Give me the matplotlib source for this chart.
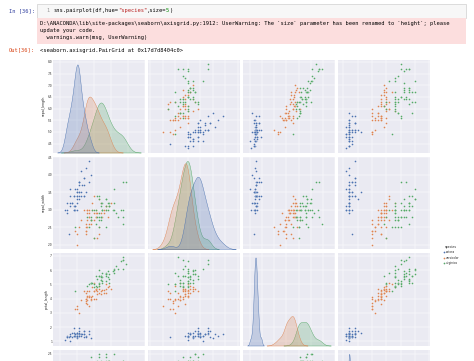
import numpy as np
import pandas as pd
import matplotlib
matplotlib.use("Agg")
import matplotlib.pyplot as plt
import seaborn as sns
from matplotlib.ticker import MaxNLocator
from matplotlib.patches import Rectangle
from matplotlib.lines import Line2D

# ---------------- data (iris) ----------------
species_names = ["setosa", "versicolor", "virginica"]
variables = ["sepal_length", "sepal_width", "petal_length", "petal_width"]

setosa_sepal_length = [5.1,4.9,4.7,4.6,5.0,5.4,4.6,5.0,4.4,4.9,5.4,4.8,4.8,4.3,5.8,5.7,5.4,5.1,5.7,5.1,5.4,5.1,4.6,5.1,4.8,5.0,5.0,5.2,5.2,4.7,4.8,5.4,5.2,5.5,4.9,5.0,5.5,4.9,4.4,5.1,5.0,4.5,4.4,5.0,5.1,4.8,5.1,4.6,5.3,5.0]
setosa_sepal_width = [3.5,3.0,3.2,3.1,3.6,3.9,3.4,3.4,2.9,3.1,3.7,3.4,3.0,3.0,4.0,4.4,3.9,3.5,3.8,3.8,3.4,3.7,3.6,3.3,3.4,3.0,3.4,3.5,3.4,3.2,3.1,3.4,4.1,4.2,3.1,3.2,3.5,3.6,3.0,3.4,3.5,2.3,3.2,3.5,3.8,3.0,3.8,3.2,3.7,3.3]
setosa_petal_length = [1.4,1.4,1.3,1.5,1.4,1.7,1.4,1.5,1.4,1.5,1.5,1.6,1.4,1.1,1.2,1.5,1.3,1.4,1.7,1.5,1.7,1.5,1.0,1.7,1.9,1.6,1.6,1.5,1.4,1.6,1.6,1.5,1.5,1.4,1.5,1.2,1.3,1.4,1.3,1.5,1.3,1.3,1.3,1.6,1.9,1.4,1.6,1.4,1.5,1.4]
setosa_petal_width = [0.2,0.2,0.2,0.2,0.2,0.4,0.3,0.2,0.2,0.1,0.2,0.2,0.1,0.1,0.2,0.4,0.4,0.3,0.3,0.3,0.2,0.4,0.2,0.5,0.2,0.2,0.4,0.2,0.2,0.2,0.2,0.4,0.1,0.2,0.2,0.2,0.2,0.1,0.2,0.2,0.3,0.3,0.2,0.6,0.4,0.3,0.2,0.2,0.2,0.2]

versicolor_sepal_length = [7.0,6.4,6.9,5.5,6.5,5.7,6.3,4.9,6.6,5.2,5.0,5.9,6.0,6.1,5.6,6.7,5.6,5.8,6.2,5.6,5.9,6.1,6.3,6.1,6.4,6.6,6.8,6.7,6.0,5.7,5.5,5.5,5.8,6.0,5.4,6.0,6.7,6.3,5.6,5.5,5.5,6.1,5.8,5.0,5.6,5.7,5.7,6.2,5.1,5.7]
versicolor_sepal_width = [3.2,3.2,3.1,2.3,2.8,2.8,3.3,2.4,2.9,2.7,2.0,3.0,2.2,2.9,2.9,3.1,3.0,2.7,2.2,2.5,3.2,2.8,2.5,2.8,2.9,3.0,2.8,3.0,2.9,2.6,2.4,2.4,2.7,2.7,3.0,3.4,3.1,2.3,3.0,2.5,2.6,3.0,2.6,2.3,2.7,3.0,2.9,2.9,2.5,2.8]
versicolor_petal_length = [4.7,4.5,4.9,4.0,4.6,4.5,4.7,3.3,4.6,3.9,3.5,4.2,4.0,4.7,3.6,4.4,4.5,4.1,4.5,3.9,4.8,4.0,4.9,4.7,4.3,4.4,4.8,5.0,4.5,3.5,3.8,3.7,3.9,5.1,4.5,4.5,4.7,4.4,4.1,4.0,4.4,4.6,4.0,3.3,4.2,4.2,4.2,4.3,3.0,4.1]
versicolor_petal_width = [1.4,1.5,1.5,1.3,1.5,1.3,1.6,1.0,1.3,1.4,1.0,1.5,1.0,1.4,1.3,1.4,1.5,1.0,1.5,1.1,1.8,1.3,1.5,1.2,1.3,1.4,1.4,1.7,1.5,1.0,1.1,1.0,1.2,1.6,1.5,1.6,1.5,1.3,1.3,1.3,1.2,1.4,1.2,1.0,1.3,1.2,1.3,1.3,1.1,1.3]

virginica_sepal_length = [6.3,5.8,7.1,6.3,6.5,7.6,4.9,7.3,6.7,7.2,6.5,6.4,6.8,5.7,5.8,6.4,6.5,7.7,7.7,6.0,6.9,5.6,7.7,6.3,6.7,7.2,6.2,6.1,6.4,7.2,7.4,7.9,6.4,6.3,6.1,7.7,6.3,6.4,6.0,6.9,6.7,6.9,5.8,6.8,6.7,6.7,6.3,6.5,6.2,5.9]
virginica_sepal_width = [3.3,2.7,3.0,2.9,3.0,3.0,2.5,2.9,2.5,3.6,3.2,2.7,3.0,2.5,2.8,3.2,3.0,3.8,2.6,2.2,3.2,2.8,2.8,2.7,3.3,3.2,2.8,3.0,2.8,3.0,2.8,3.8,2.8,2.8,2.6,3.0,3.4,3.1,3.0,3.1,3.1,3.1,2.7,3.2,3.3,3.0,2.5,3.0,3.4,3.0]
virginica_petal_length = [6.0,5.1,5.9,5.6,5.8,6.6,4.5,6.3,5.8,6.1,5.1,5.3,5.5,5.0,5.1,5.3,5.5,6.7,6.9,5.0,5.7,4.9,6.7,4.9,5.7,6.0,4.8,4.9,5.6,5.8,6.1,6.4,5.6,5.1,5.6,6.1,5.6,5.5,4.8,5.4,5.6,5.1,5.1,5.9,5.7,5.2,5.0,5.2,5.4,5.1]
virginica_petal_width = [2.5,1.9,2.1,1.8,2.2,2.1,1.7,1.8,1.8,2.5,2.0,1.9,2.1,2.0,2.4,2.3,1.8,2.2,2.3,1.5,2.3,2.0,2.0,1.8,2.1,1.8,1.8,1.8,2.1,1.6,1.9,2.0,2.2,1.5,1.4,2.3,2.4,1.8,1.8,2.1,2.4,2.3,1.9,2.3,2.5,2.3,1.9,2.0,2.3,1.8]

code_line = 'sns.pairplot(df,hue="species",size=5)'
warning_lines = [
    "D:\\ANACONDA\\lib\\site-packages\\seaborn\\axisgrid.py:1912: UserWarning: The `size` parameter has been renamed to `height`; please",
    "update your code.",
    "  warnings.warn(msg, UserWarning)",
]
out_repr = "<seaborn.axisgrid.PairGrid at 0x17d7d8404c0>"

frames = []
for sp, cols in zip(species_names, [
        [setosa_sepal_length, setosa_sepal_width, setosa_petal_length, setosa_petal_width],
        [versicolor_sepal_length, versicolor_sepal_width, versicolor_petal_length, versicolor_petal_width],
        [virginica_sepal_length, virginica_sepal_width, virginica_petal_length, virginica_petal_width]]):
    d = pd.DataFrame(dict(zip(variables, cols)))
    d["species"] = sp
    frames.append(d)
df = pd.concat(frames, ignore_index=True)

# ---------------- style ----------------
sns.set_style("darkgrid")
plt.rcParams["font.family"] = ["DejaVu Sans"]
colors = sns.color_palette("deep")[:3]

W, H = 474, 361
fig = plt.figure(figsize=(W / 100, H / 100), dpi=100)
fig.patch.set_facecolor("white")

def rect(x0, y0, w, h):
    return [x0 / W, 1 - (y0 + h) / H, w / W, h / H]

# ---------------- notebook chrome ----------------
mono = "DejaVu Sans Mono"
fs = 3.85
cw = 0.602 * fs * 100 / 72  # char width in px

fig.patches.append(Rectangle((37 / W, 1 - 17.5 / H), 429 / W, 13.5 / H, transform=fig.transFigure,
                             facecolor="#F7F7F7", edgecolor="#CFCFCF", lw=0.5))
fig.patches.append(Rectangle((37 / W, 1 - 43.5 / H), 429 / W, 25.5 / H, transform=fig.transFigure,
                             facecolor="#FCDEDE", edgecolor="none"))

def ftext(x, y, s, color="black", **kw):
    fig.text(x / W, 1 - y / H, s, color=color, family=mono, fontsize=fs, va="center", ha="left", **kw)

ftext(9, 10.7, "In [36]:", color="#303F9F")
ftext(46, 10.7, "1", color="#999999")
x0 = 53.3
parts = [('sns.pairplot(df,hue=', "black"), ('"species"', "#BA2121"), (',size=', "black"), ('5', "#008800"), (')', "black")]
for s, c in parts:
    ftext(x0, 10.7, s, color=c)
    x0 += len(s) * cw
for k, line in enumerate(warning_lines):
    ftext(40, 24 + k * 6.7, line)
ftext(9, 50.3, "Out[36]:", color="#D84315")
ftext(40, 50.3, out_repr)

# ---------------- pair grid ----------------
col_left = [53, 148, 243, 338]
row_top = [60, 156.5, 253, 349.5]
aw, ah = 92, 92.5

tick_fs = 2.1
label_fs = 2.3
axes = [[None] * 4 for _ in range(4)]
for i in range(4):
    for j in range(4):
        sx = axes[0][j] if i > 0 else None
        sy = axes[i][0] if j > 0 else None
        ax = fig.add_axes(rect(col_left[j], row_top[i], aw, ah), sharex=sx, sharey=sy)
        ax.set_facecolor("#EAEAF2")
        ax.grid(True, color="white", lw=0.35)
        for sp in ax.spines.values():
            sp.set_visible(False)
        ax.tick_params(length=0, labelsize=tick_fs, pad=0.7, colors=".15")
        axes[i][j] = ax

for i, yv in enumerate(variables):
    for j, xv in enumerate(variables):
        ax = axes[i][j]
        if i == j:
            dax = ax.twinx()
            sns.kdeplot(data=df, x=xv, hue="species", hue_order=species_names, palette=colors,
                        fill=True, common_norm=True, legend=False, linewidth=0.3, ax=dax)
            dax.set_axis_off()
        else:
            for sp, c in zip(species_names, colors):
                sub = df[df["species"] == sp]
                ax.scatter(sub[xv], sub[yv], s=1.6, color=c, edgecolor="white", linewidth=0.1, zorder=3)

for i in range(4):
    for j in range(4):
        ax = axes[i][j]
        ax.xaxis.set_major_locator(MaxNLocator(9, steps=[1, 2, 2.5, 5, 10]))
        ax.yaxis.set_major_locator(MaxNLocator(9, steps=[1, 2, 2.5, 5, 10]))
        # bottom row x labels lie below the visible (cropped) screenshot area
        ax.tick_params(labelleft=(j == 0), labelbottom=False)
        ax.set_xlabel("")
        ax.set_ylabel(variables[i] if (j == 0 and i < 3) else "", fontsize=label_fs, labelpad=0.8, color=".15")

handles = [Line2D([], [], marker="o", ls="none", markersize=1.3, markerfacecolor=c,
                  markeredgecolor="white", markeredgewidth=0.1) for c in colors]
leg = fig.legend(handles, species_names, title="species", loc="center",
                 bbox_to_anchor=(451 / W, 1 - 255 / H), frameon=False, fontsize=tick_fs,
                 title_fontsize=label_fs, handletextpad=0.3, labelspacing=0.45, handlelength=1.0)

fig.savefig("out.png", dpi=100)
